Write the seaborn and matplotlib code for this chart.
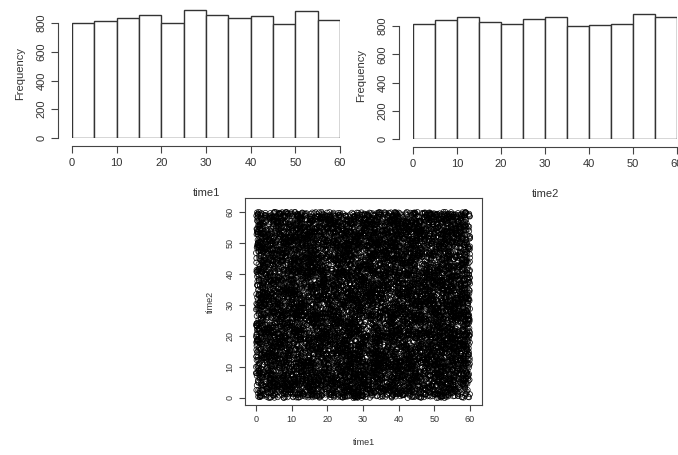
import numpy as np
import pandas as pd
import matplotlib
matplotlib.use("Agg")
import matplotlib.pyplot as plt
import seaborn as sns

edges = [0, 5, 10, 15, 20, 25, 30, 35, 40, 45, 50, 55, 60]
time1_counts = [800, 816, 837, 853, 800, 888, 853, 832, 846, 795, 881, 818]
time2_counts = [812, 845, 864, 826, 812, 852, 864, 800, 809, 816, 882, 864]

sns.set_style("white")
plt.rcParams['font.family'] = ['Liberation Sans', 'DejaVu Sans']

W, H = 678, 455
fig = plt.figure(figsize=(W/100, H/100), dpi=100)

def px_axes(x0, x1, y0, y1):
    return fig.add_axes([x0/W, 1-y1/H, (x1-x0)/W, (y1-y0)/H])

centers = [(a+b)/2 for a, b in zip(edges[:-1], edges[1:])]

def hist(ax, counts, label):
    sns.histplot(x=centers, weights=counts, bins=edges, ax=ax, color="white",
                 edgecolor="#333333", linewidth=1, alpha=1)
    ax.set_xlim(0, 60)
    ax.set_ylim(0, 900)
    for s in ["top", "right"]:
        ax.spines[s].set_visible(False)
    ax.spines["left"].set_position(("outward", 10))
    ax.spines["bottom"].set_position(("outward", 6))
    ax.spines["left"].set_bounds(0, 800)
    ax.spines["bottom"].set_bounds(0, 60)
    for s in ["left", "bottom"]:
        ax.spines[s].set_color("#444444")
        ax.spines[s].set_linewidth(0.8)
    ax.set_xticks(range(0, 61, 10))
    ax.set_yticks(range(0, 801, 200))
    ax.tick_params(axis="both", length=5, color="#444444", labelsize=8, labelcolor="#333333",
                   left=True, bottom=True)
    for t in ax.get_yticklabels():
        t.set_rotation(90); t.set_va("center")
    ax.set_xlabel(label, fontsize=8, labelpad=14, color="#333333")
    ax.set_ylabel("Frequency", fontsize=8, labelpad=8, color="#333333")

ax1 = px_axes(72, 340, 138 - 115*900/800, 138)
hist(ax1, time1_counts, "time1")
ax2 = px_axes(413, 677, 139 - 113*900/800, 139)
hist(ax2, time2_counts, "time2")

# scatter points built from the histogram bin counts
rng = np.random.default_rng(1)
def expand(counts):
    vals = np.concatenate([rng.uniform(a, b, c) for a, b, c in zip(edges[:-1], edges[1:], counts)])
    return vals
t1 = expand(time1_counts)
t2 = expand(time2_counts)
n = min(len(t1), len(t2))
rng.shuffle(t1); rng.shuffle(t2)
df = pd.DataFrame({"time1": t1[:n], "time2": t2[:n]})

ax3 = px_axes(245, 482, 198, 405)
sns.scatterplot(data=df, x="time1", y="time2", ax=ax3, marker="o", s=14,
                facecolors="none", edgecolor="black", linewidth=0.5)
# map 0..60 to pixels: x 256..470, y 398..212
sx = 60/(470-256); sy = 60/(398-212)
ax3.set_xlim(-(256-245)*sx, 60+(482-470)*sx)
ax3.set_ylim(-(405-398)*sy, 60+(212-198)*sy)
for s in ax3.spines.values():
    s.set_color("#444444"); s.set_linewidth(0.8)
ax3.set_xticks(range(0, 61, 10))
ax3.set_yticks(range(0, 61, 10))
ax3.tick_params(axis="both", length=4, color="#444444", labelsize=6.5, labelcolor="#333333",
                left=True, bottom=True)
for t in ax3.get_yticklabels():
    t.set_rotation(90); t.set_va("center")
ax3.set_xlabel("time1", fontsize=6.5, labelpad=10, color="#333333")
ax3.set_ylabel("time2", fontsize=6.5, labelpad=8, color="#333333")

fig.savefig("out.png", dpi=100)
